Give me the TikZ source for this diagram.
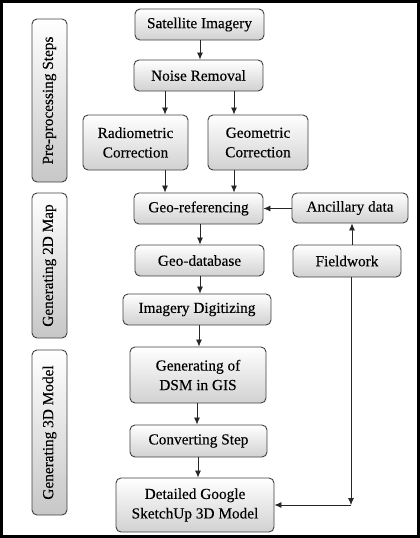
\documentclass[tikz,border=0pt]{standalone}
\usepackage{fontspec}
\setmainfont{Liberation Serif}[FakeBold=0.25]
\usepackage{tikz}
\usetikzlibrary{arrows.meta,calc,positioning}

\begin{document}
\begin{tikzpicture}[x=1pt, y=-1pt,
  box/.style={rectangle, rounded corners=5pt, draw=black!75, line width=0.9pt,
    top color=white, bottom color=black!18, align=center,
    font=\fontsize{15.3}{19.5}\selectfont, inner sep=0pt},
  side/.style={rectangle, rounded corners=5pt, draw=black!75, line width=0.9pt,
    rotate=90, top color=white, bottom color=black!22,
    font=\fontsize{15.3}{19.5}\selectfont, inner sep=0pt, minimum height=35pt},
  arr/.style={-{Latex[length=7pt,width=6pt]}, line width=0.8pt, black!85}]
\useasboundingbox (0,0) rectangle (420,538);
\draw[line width=3pt] (1.5,1.5) rectangle (418.5,536.5);
% phase labels
\node[side, minimum width=163pt] (pre) at (49.5,100.5) {Pre-processing Steps};
\node[side, minimum width=145pt] (map) at (49.5,265.5) {Generating 2D Map};
\node[side, minimum width=165pt] (mod) at (49.5,432.5) {Generating 3D Model};
% main steps
\node[box, minimum width=129pt, minimum height=31pt] (sat) at (199.5,24.5) {Satellite Imagery};
\node[box, minimum width=129pt, minimum height=31pt] (noise) at (198.5,75.5) {Noise Removal};
\node[box, minimum width=105pt, minimum height=55pt] (radio) at (135.5,142.5) {Radiometric\\Correction};
\node[box, minimum width=100pt, minimum height=55pt] (geom) at (258,142.5) {Geometric\\Correction};
\node[box, minimum width=129pt, minimum height=31pt] (georef) at (198.5,208.5) {Geo-referencing};
\node[box, minimum width=116pt, minimum height=30pt] (anc) at (350,208) {Ancillary data};
\node[box, minimum width=129pt, minimum height=31pt] (geodb) at (199.5,260.5) {Geo-database};
\node[box, minimum width=108pt, minimum height=32pt] (field) at (347,261) {Fieldwork};
\node[box, minimum width=148pt, minimum height=31pt] (digit) at (197,309.5) {Imagery Digitizing};
\node[box, minimum width=136pt, minimum height=56pt] (dsm) at (198,375) {Generating of\\DSM in GIS};
\node[box, minimum width=137pt, minimum height=32pt] (conv) at (198.5,441) {Converting Step};
\node[box, minimum width=158pt, minimum height=54pt] (model) at (195,505) {Detailed Google\\SketchUp 3D Model};
% helper coordinates
\coordinate (lft) at (165,0);
\coordinate (rgt) at (234,0);
\coordinate (mid) at (200,0);
\coordinate (fcol) at (351,0);
\coordinate (corner) at (351,505);
% connectors
\draw[arr] (sat.south -| mid) -- (noise.north -| mid);
\draw[arr] (noise.south -| lft) -- (radio.north -| lft);
\draw[arr] (noise.south -| rgt) -- (geom.north -| rgt);
\draw[arr] (radio.south -| lft) -- (georef.north -| lft);
\draw[arr] (geom.south -| rgt) -- (georef.north -| rgt);
\draw[arr] (anc.west |- georef) -- (georef.east);
\draw[arr] (field.north -| anc) ++(2,0) -- ([xshift=2pt]anc.south);
\draw[arr] (georef.south -| mid) -- (geodb.north -| mid);
\draw[arr] (geodb.south -| mid) -- (digit.north -| mid);
\draw[arr] (digit.south -| 199,0) -- (dsm.north -| 199,0);
\draw[arr] (dsm.south -| 197,0) -- (conv.north -| 197,0);
\draw[arr] (conv.south -| 198,0) -- (model.north -| 198,0);
\draw[arr] (field.south -| fcol) -- (corner);
\draw[arr] (corner) -- (model.east |- corner);
\end{tikzpicture}
\end{document}
